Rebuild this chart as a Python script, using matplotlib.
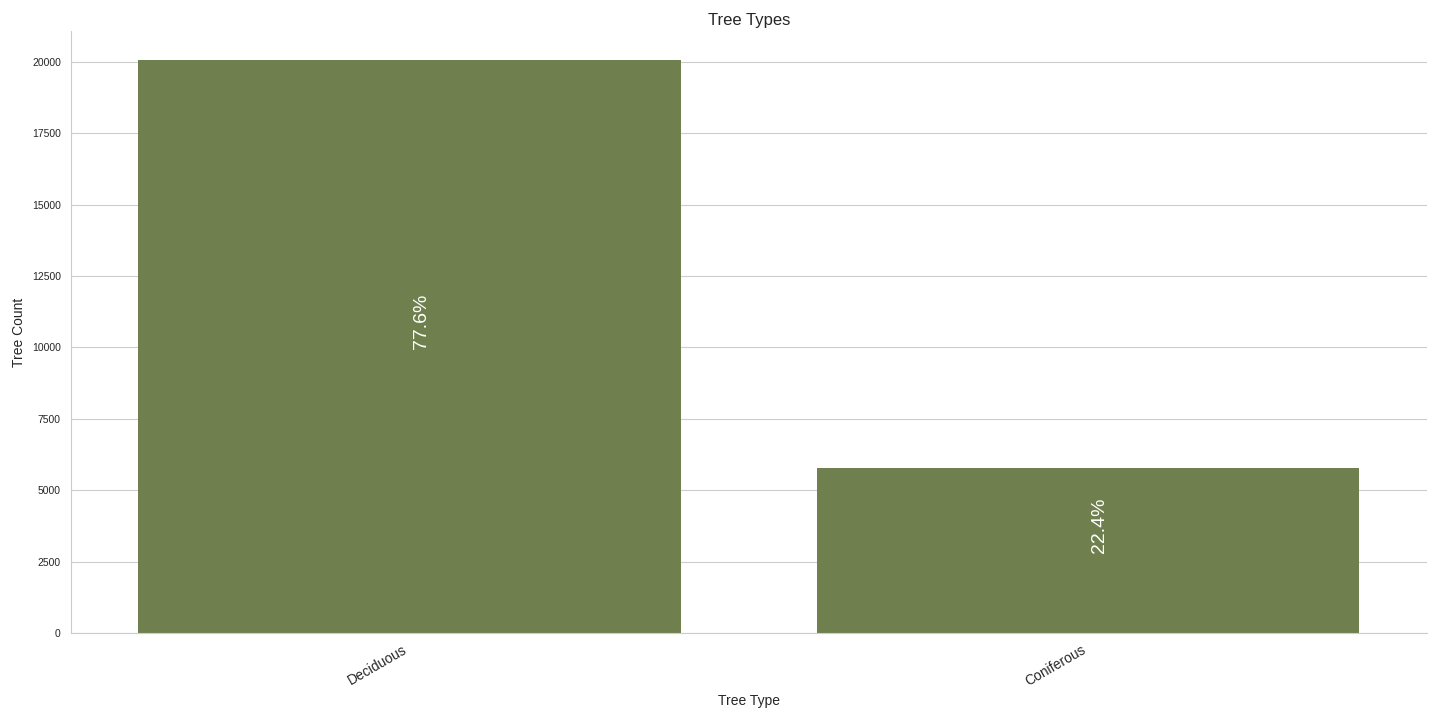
import matplotlib
matplotlib.use("Agg")
import matplotlib.pyplot as plt
import matplotlib.transforms as mtransforms
import seaborn as sns

categories = ["Deciduous", "Coniferous"]
counts = [20080, 5790]

sns.set_style("whitegrid")
plt.rcParams['font.family'] = ['Liberation Sans', 'DejaVu Sans']

fig, ax = plt.subplots(figsize=(14.4, 7.2), dpi=100)
fig.subplots_adjust(left=0.049, right=0.991, top=0.957, bottom=0.121)

x = list(range(len(categories)))
ax.bar(x, counts, width=0.8, color="#6f7f4d", linewidth=0, zorder=2)
ax.set_xlim(-0.5, len(categories) - 0.5)
ax.set_ylim(0, max(counts) * 1.05)
ax.set_xticks(x)
ax.set_xticklabels(categories, rotation=30, ha="right", fontsize=10)
ax.tick_params(axis="y", labelsize=7.5)
ax.grid(axis="x", visible=False)
ax.grid(axis="y", color="#cccccc", linewidth=0.8)
for s in ["top", "right"]:
    ax.spines[s].set_visible(False)
for s in ["left", "bottom"]:
    ax.spines[s].set_color("#cccccc")

total = sum(counts)
offset = mtransforms.offset_copy(ax.transData, fig=fig, x=3, y=-3, units="dots")
for xi, c in zip(x, counts):
    ax.text(xi, c / 2, f"{c / total * 100:.1f}%", rotation=90, color="white",
            fontsize=14, ha="left", va="bottom", transform=offset)

ax.set_xlabel("Tree Type", fontsize=10)
ax.set_ylabel("Tree Count", fontsize=10)
ax.set_title("Tree Types", fontsize=12, pad=4)

fig.savefig("out.png", dpi=100)
